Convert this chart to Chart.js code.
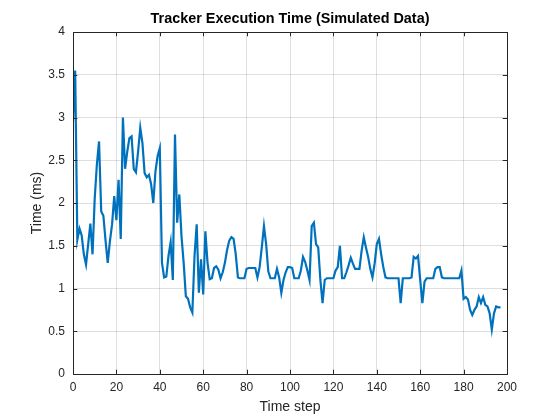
<!DOCTYPE html>
<html>
<head>
<meta charset="utf-8">
<script src="https://cdn.jsdelivr.net/npm/chart.js@4.4.1/dist/chart.umd.min.js"></script>
<style>
  html, body { margin: 0; padding: 0; background: #ffffff; }
  canvas { display: block; }
</style>
</head>
<body>
<canvas id="c" width="560" height="420"></canvas>
<script>
// ---- Data ----
const chartTitle = "Tracker Execution Time (Simulated Data)";
const xAxisTitle = "Time step";
const yAxisTitle = "Time (ms)";

const xTickValues = [0, 20, 40, 60, 80, 100, 120, 140, 160, 180, 200];
const xTickLabels = ["0", "20", "40", "60", "80", "100", "120", "140", "160", "180", "200"];
const yTickValues = [0, 0.5, 1, 1.5, 2, 2.5, 3, 3.5, 4];
const yTickLabels = ["0", "0.5", "1", "1.5", "2", "2.5", "3", "3.5", "4"];

// execution time (ms) at time steps 0,1,2,...
const execTimes = [
  2.95, 3.55, 1.57, 1.70, 1.62, 1.40, 1.28, 1.52, 1.76, 1.40,
  2.05, 2.45, 2.72, 1.90, 1.85, 1.56, 1.30, 1.55, 1.75, 2.08,
  1.80, 2.27, 1.58, 3.00, 2.40, 2.60, 2.76, 2.78, 2.40, 2.36,
  2.60, 2.88, 2.70, 2.35, 2.30, 2.33, 2.22, 2.00, 2.37, 2.55,
  2.64, 1.30, 1.13, 1.14, 1.38, 1.54, 1.10, 2.80, 1.77, 2.10,
  1.61, 1.30, 0.91, 0.88, 0.78, 0.72, 1.38, 1.75, 0.95, 1.34,
  0.93, 1.67, 1.30, 1.11, 1.12, 1.24, 1.26, 1.22, 1.12, 1.19,
  1.30, 1.45, 1.56, 1.60, 1.58, 1.40, 1.13, 1.12, 1.12, 1.12,
  1.23, 1.24, 1.24, 1.24, 1.24, 1.13, 1.25, 1.48, 1.73, 1.52,
  1.20, 1.12, 1.12, 1.12, 1.23, 1.13, 0.95, 1.10, 1.19, 1.25,
  1.25, 1.24, 1.12, 1.12, 1.12, 1.21, 1.37, 1.31, 1.21, 1.10,
  1.73, 1.77, 1.52, 1.48, 1.10, 0.83, 1.10, 1.12, 1.12, 1.12,
  1.12, 1.21, 1.25, 1.50, 1.12, 1.12, 1.19, 1.27, 1.36, 1.29,
  1.23, 1.23, 1.23, 1.44, 1.60, 1.48, 1.37, 1.23, 1.13, 1.29,
  1.52, 1.58, 1.40, 1.25, 1.13, 1.12, 1.12, 1.12, 1.12, 1.12,
  1.12, 0.83, 1.12, 1.12, 1.12, 1.12, 1.13, 1.37, 1.35, 1.38,
  1.10, 0.83, 1.08, 1.12, 1.12, 1.12, 1.12, 1.23, 1.25, 1.25,
  1.13, 1.12, 1.12, 1.12, 1.12, 1.12, 1.12, 1.12, 1.12, 1.21,
  0.88, 0.90, 0.87, 0.75, 0.69, 0.75, 0.79, 0.90, 0.83, 0.90,
  0.81, 0.79, 0.71, 0.52, 0.71, 0.79, 0.78, 0.78
];

// ---- Styling ----
const AXIS_COLOR = '#262626';
const GRID_COLOR = 'rgba(38,38,38,0.15)';
const LINE_COLOR = '#0072BD';
const FONT = 'Liberation Sans, Arial, Helvetica, sans-serif';

const points = execTimes.map((v, i) => ({ x: i, y: v }));

// Box + inward ticks like MATLAB
const boxPlugin = {
  id: 'matlabBox',
  afterDatasetsDraw(chart) {
    const { ctx, chartArea: a, scales } = chart;
    ctx.save();
    ctx.strokeStyle = AXIS_COLOR;
    ctx.lineWidth = 1;
    const tl = 4.3;
    ctx.beginPath();
    xTickValues.forEach(v => {
      const px = Math.round(scales.x.getPixelForValue(v)) + 0.5;
      ctx.moveTo(px, a.bottom); ctx.lineTo(px, a.bottom - tl);
      ctx.moveTo(px, a.top); ctx.lineTo(px, a.top + tl);
    });
    yTickValues.forEach(v => {
      const py = Math.round(scales.y.getPixelForValue(v)) + 0.5;
      ctx.moveTo(a.left, py); ctx.lineTo(a.left + tl, py);
      ctx.moveTo(a.right, py); ctx.lineTo(a.right - tl, py);
    });
    ctx.stroke();
    ctx.strokeRect(Math.round(a.left) + 0.5, Math.round(a.top) + 0.5,
                   Math.round(a.right - a.left), Math.round(a.bottom - a.top));
    ctx.restore();
  }
};

const bgPlugin = {
  id: 'bg',
  beforeDraw(chart) {
    const { ctx } = chart;
    ctx.save();
    ctx.fillStyle = '#ffffff';
    ctx.fillRect(0, 0, chart.width, chart.height);
    ctx.restore();
  }
};

new Chart(document.getElementById('c'), {
  type: 'line',
  data: {
    datasets: [{
      data: points,
      borderColor: LINE_COLOR,
      borderWidth: 2.2,
      pointRadius: 0,
      tension: 0,
      fill: false,
      xAxisID: 'x',
      yAxisID: 'y'
    }]
  },
  options: {
    responsive: false,
    animation: false,
    devicePixelRatio: 1,
    layout: { padding: { top: 0, left: 0, right: 53, bottom: 0 } },
    plugins: {
      legend: { display: false },
      tooltip: { enabled: false },
      title: { display: false }
    },
    scales: {
      // top scale used only to carry the chart title, centred over the plot area
      titleAxis: {
        type: 'linear',
        position: 'top',
        min: 0, max: 1,
        afterFit(scale) { scale.height = 32; },
        ticks: { display: false },
        grid: { display: false, drawTicks: false },
        border: { display: false },
        title: {
          display: true,
          text: chartTitle,
          color: '#000000',
          font: { family: FONT, size: 14.4, weight: 'bold' },
          padding: { top: 10.2, bottom: 0 }
        }
      },
      x: {
        type: 'linear',
        position: 'bottom',
        min: 0, max: 200,
        afterFit(scale) { scale.height = 46; },
        afterBuildTicks(scale) { scale.ticks = xTickValues.map(v => ({ value: v })); },
        ticks: {
          color: AXIS_COLOR,
          font: { family: FONT, size: 12 },
          padding: 6,
          maxRotation: 0,
          autoSkip: false,
          callback: (v) => xTickLabels[xTickValues.indexOf(v)]
        },
        grid: { color: GRID_COLOR, drawTicks: false, tickLength: 0 },
        border: { display: false },
        title: {
          display: true, text: xAxisTitle, color: AXIS_COLOR,
          font: { family: FONT, size: 14 },
          padding: { top: 0, bottom: 4 }
        }
      },
      y: {
        type: 'linear',
        position: 'left',
        min: 0, max: 4,
        afterFit(scale) { scale.width = 73; },
        afterBuildTicks(scale) { scale.ticks = yTickValues.map(v => ({ value: v })); },
        ticks: {
          color: AXIS_COLOR,
          font: { family: FONT, size: 12 },
          padding: 8,
          autoSkip: false,
          callback: (v) => yTickLabels[yTickValues.indexOf(v)]
        },
        grid: { color: GRID_COLOR, drawTicks: false, tickLength: 0 },
        border: { display: false },
        title: {
          display: true, text: yAxisTitle, color: AXIS_COLOR,
          font: { family: FONT, size: 14 },
          padding: { top: 29, bottom: 0 }
        }
      }
    }
  },
  plugins: [bgPlugin, boxPlugin]
});
</script>
</body>
</html>
